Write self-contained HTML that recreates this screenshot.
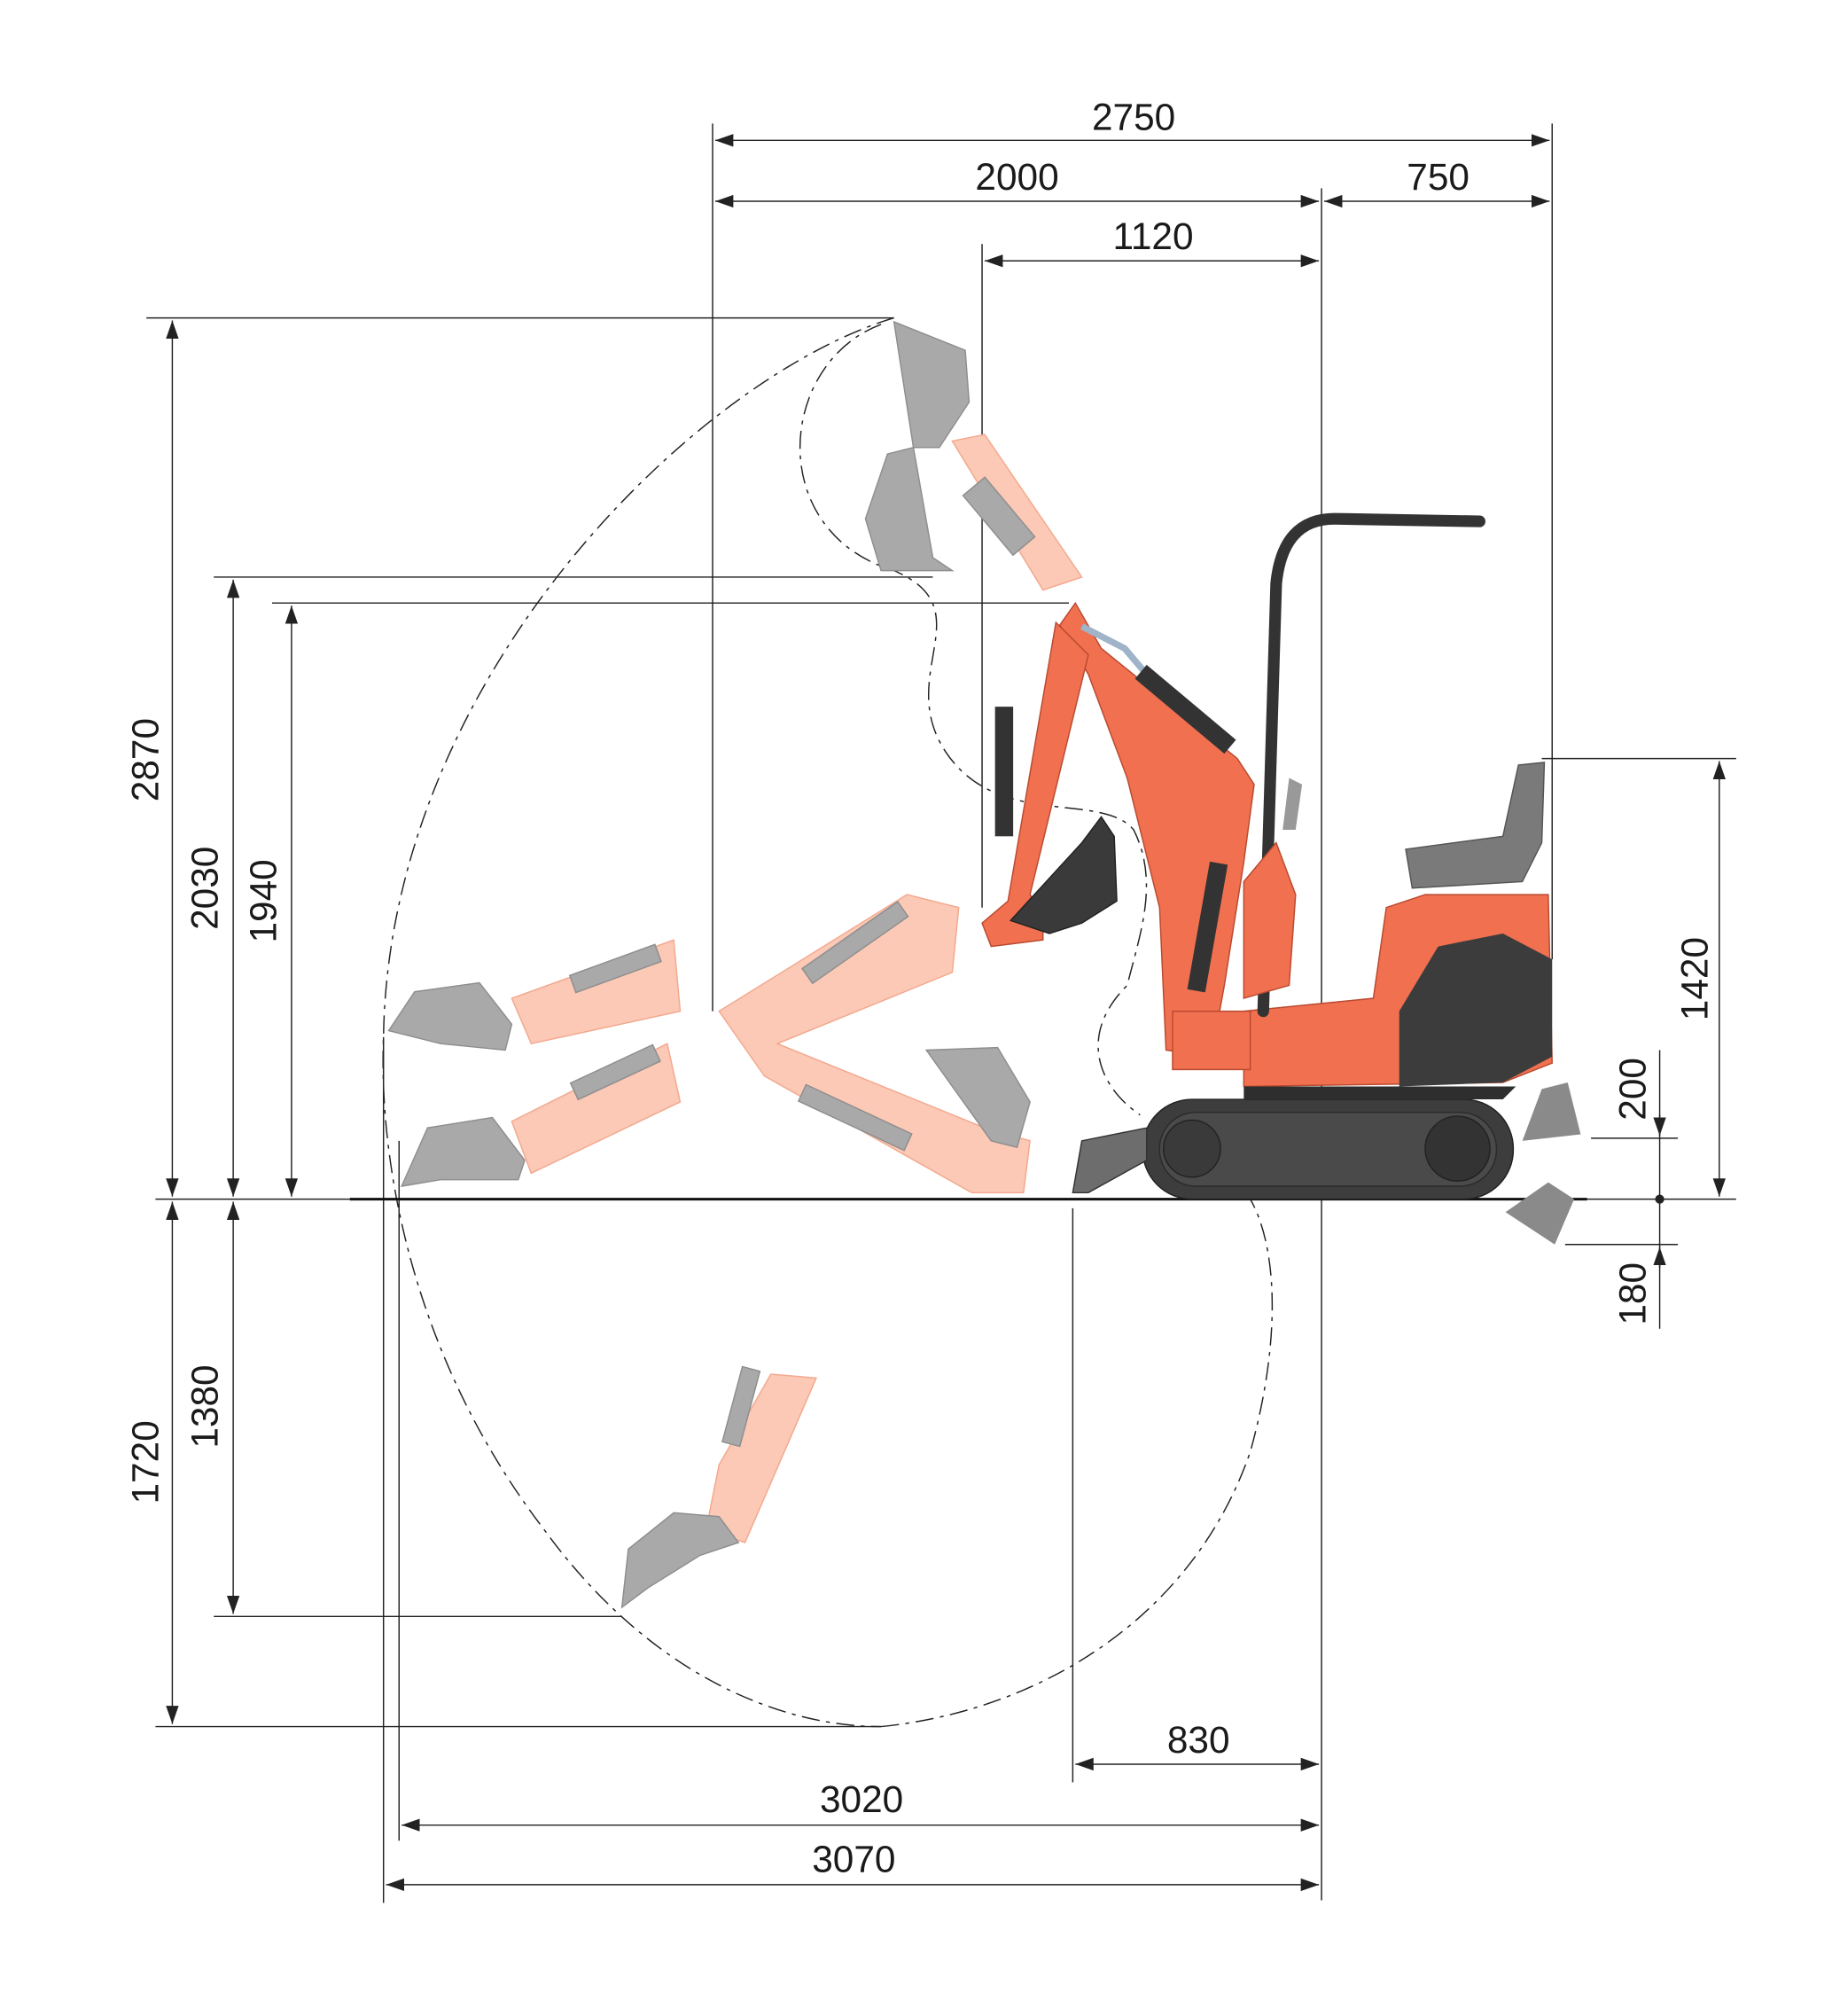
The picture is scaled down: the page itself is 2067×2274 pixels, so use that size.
<!DOCTYPE html>
<html><head><meta charset="utf-8"><style>
html,body{margin:0;padding:0;background:#fff;}
svg{display:block;}
text{font-family:"Liberation Sans",Arial,sans-serif;font-size:29px;fill:#1a1a1a;}
</style></head><body>
<svg width="2067" height="2274" viewBox="0 0 1414 1555" xmlns="http://www.w3.org/2000/svg">
<defs>
<marker id="a" viewBox="0 0 10 10" refX="10" refY="5" markerWidth="14" markerHeight="14" markerUnits="userSpaceOnUse" orient="auto-start-reverse"><path d="M0,1.5 L10,5 L0,8.5 z" fill="#222"/></marker>
</defs>
<g stroke="#222" stroke-width="1" fill="none">
<line x1="550" y1="95" x2="550" y2="780"/>
<line x1="1020" y1="145" x2="1020" y2="1466"/>
<line x1="1198" y1="95" x2="1198" y2="740"/>
<line x1="758" y1="188" x2="758" y2="700"/>
<line x1="113" y1="245" x2="690" y2="245"/>
<line x1="165" y1="445" x2="720" y2="445"/>
<line x1="210" y1="465" x2="825" y2="465"/>
<line x1="120" y1="1332" x2="680" y2="1332"/>
<line x1="165" y1="1247" x2="480" y2="1247"/>
<line x1="828" y1="932" x2="828" y2="1375"/>
<line x1="296" y1="800" x2="296" y2="1468"/>
<line x1="308" y1="880" x2="308" y2="1420"/>
<line x1="1190" y1="585" x2="1340" y2="585"/>
<line x1="1228" y1="878" x2="1295" y2="878"/>
<line x1="1208" y1="960" x2="1295" y2="960"/>
<line x1="120" y1="925" x2="270" y2="925"/>
<line x1="1225" y1="925" x2="1340" y2="925"/>
<line x1="1281" y1="810" x2="1281" y2="1025"/>
<line x1="552" y1="108" x2="1196" y2="108" marker-start="url(#a)" marker-end="url(#a)"/>
<line x1="552" y1="155" x2="1018" y2="155" marker-start="url(#a)" marker-end="url(#a)"/>
<line x1="1022" y1="155" x2="1196" y2="155" marker-start="url(#a)" marker-end="url(#a)"/>
<line x1="760" y1="201" x2="1018" y2="201" marker-start="url(#a)" marker-end="url(#a)"/>
<line x1="133" y1="247" x2="133" y2="923" marker-start="url(#a)" marker-end="url(#a)"/>
<line x1="180" y1="447" x2="180" y2="923" marker-start="url(#a)" marker-end="url(#a)"/>
<line x1="225" y1="467" x2="225" y2="923" marker-start="url(#a)" marker-end="url(#a)"/>
<line x1="133" y1="927" x2="133" y2="1330" marker-start="url(#a)" marker-end="url(#a)"/>
<line x1="180" y1="927" x2="180" y2="1245" marker-start="url(#a)" marker-end="url(#a)"/>
<line x1="830" y1="1361" x2="1018" y2="1361" marker-start="url(#a)" marker-end="url(#a)"/>
<line x1="310" y1="1408" x2="1018" y2="1408" marker-start="url(#a)" marker-end="url(#a)"/>
<line x1="298" y1="1454" x2="1018" y2="1454" marker-start="url(#a)" marker-end="url(#a)"/>
<line x1="1327" y1="587" x2="1327" y2="923" marker-start="url(#a)" marker-end="url(#a)"/>
<line x1="1281" y1="860" x2="1281" y2="876" marker-end="url(#a)"/>
<line x1="1281" y1="978" x2="1281" y2="962" marker-end="url(#a)"/>
<g stroke-dasharray="14,5,3,5">
<path d="M690,245 C540,290 300,520 296,800 C292,900 320,1050 420,1180 C500,1290 600,1332 680,1332"/>
<path d="M680,1332 C800,1320 920,1250 965,1120 C990,1030 985,960 965,925"/>
<path d="M680,250 C600,280 590,410 690,440 C760,470 690,520 730,580 C770,640 850,610 875,640 C895,680 880,720 870,760 C830,800 850,840 880,860"/>
</g>
</g>
<line x1="270" y1="925" x2="1225" y2="925" stroke="#111" stroke-width="2"/>
<circle cx="1281" cy="925" r="3.5" fill="#222"/>
<g fill="#fbc9b5" stroke="#f3a88e" stroke-width="1">
<path d="M735,340 L760,335 L835,445 L805,455 Z"/>
<path d="M395,770 L520,725 L525,780 L410,805 Z"/>
<path d="M395,865 L515,805 L525,850 L410,905 Z"/>
<path d="M555,780 L700,690 L740,700 L735,750 L600,805 L760,870 L795,880 L790,920 L750,920 L590,830 Z"/>
<path d="M555,1130 L595,1060 L630,1063 L575,1190 L545,1180 Z"/>
</g>
<g fill="#a9a9a9" stroke="#8e8e8e" stroke-width="1">
<path d="M690,248 L745,270 L748,310 L725,345 L705,345 Z"/>
<path d="M685,350 L705,345 L720,430 L735,440 L680,440 L668,400 Z"/>
<rect x="760" y="368" width="22" height="60" transform="rotate(-40 771 398)"/>
<path d="M300,795 L320,765 L370,758 L395,790 L390,810 L340,805 Z"/>
<path d="M310,915 L330,870 L380,862 L405,895 L400,910 L340,910 Z"/>
<path d="M715,810 L770,808 L795,850 L785,885 L765,880 Z"/>
<path d="M480,1240 L485,1195 L520,1167 L555,1170 L570,1190 L540,1200 L500,1225 Z"/>
<rect x="440" y="740" width="70" height="14" transform="rotate(-20 475 747)"/>
<rect x="440" y="820" width="70" height="14" transform="rotate(-25 475 827)"/>
<rect x="615" y="720" width="90" height="14" transform="rotate(-35 660 727)"/>
<rect x="615" y="855" width="90" height="14" transform="rotate(25 660 862)"/>
<rect x="565" y="1055" width="14" height="60" transform="rotate(15 572 1085)"/>
</g>
<rect x="882" y="848" width="286" height="77" rx="38" fill="#3d3d3d" stroke="#222"/>
<rect x="895" y="858" width="260" height="57" rx="28" fill="#4a4a4a" stroke="#2a2a2a"/>
<circle cx="1125" cy="886" r="25" fill="#333" stroke="#222"/>
<circle cx="920" cy="886" r="22" fill="#3a3a3a" stroke="#222"/>
<path d="M828,920 L835,880 L885,870 L885,895 L840,920 Z" fill="#6d6d6d" stroke="#333"/>
<path d="M1175,880 L1190,840 L1210,835 L1220,875 Z" fill="#8a8a8a"/>
<path d="M1162,935 L1195,912 L1215,925 L1200,960 Z" fill="#8a8a8a"/>
<path d="M960,780 L1060,770 L1070,700 L1100,690 L1195,690 L1198,820 L1160,835 L960,838 Z" fill="#f07050" stroke="#b94a30"/>
<path d="M1080,780 L1110,730 L1160,720 L1198,740 L1198,815 L1160,835 L1080,838 Z" fill="#3c3c3c"/>
<path d="M960,838 L1170,838 L1160,848 L960,848 Z" fill="#2e2e2e"/>
<path d="M1085,655 L1160,645 L1172,590 L1192,588 L1190,650 L1175,680 L1090,685 Z" fill="#7a7a7a" stroke="#555"/>
<path d="M975,780 L985,450 Q990,400 1030,400 L1142,402" fill="none" stroke="#333" stroke-width="9" stroke-linecap="round"/>
<path d="M1000,640 L1005,605 L995,600 L990,640 Z" fill="#999"/>
<path d="M960,680 L985,650 L1000,690 L995,760 L960,770 Z" fill="#f07050" stroke="#b94a30"/>
<!-- boom -->
<path d="M900,810 L895,700 L870,600 L840,520 L818,482 L830,465 L850,500 L955,585 L968,605 L960,665 L945,760 L935,815 Z" fill="#f07050" stroke="#b94a30"/>
<path d="M815,480 L840,505 L795,690 L805,705 L805,725 L765,730 L758,712 L778,695 Z" fill="#f07050" stroke="#b94a30"/>
<path d="M835,483 L868,500 L885,520" stroke="#9fb4c8" stroke-width="5" fill="none"/>
<rect x="870" y="540" width="90" height="14" fill="#333" transform="rotate(40 915 547)"/>
<rect x="768" y="545" width="14" height="100" fill="#333"/>
<rect x="925" y="665" width="14" height="100" fill="#333" transform="rotate(10 932 715)"/>
<path d="M780,710 L835,650 L850,630 L860,645 L862,695 L835,712 L810,720 Z" fill="#3a3a3a" stroke="#222"/>
<rect x="905" y="780" width="60" height="45" fill="#f07050" stroke="#b94a30"/>
<text x="875" y="100" text-anchor="middle">2750</text>
<text x="785" y="146" text-anchor="middle">2000</text>
<text x="1110" y="146" text-anchor="middle">750</text>
<text x="890" y="192" text-anchor="middle">1120</text>
<text x="925" y="1352" text-anchor="middle">830</text>
<text x="665" y="1398" text-anchor="middle">3020</text>
<text x="659" y="1444" text-anchor="middle">3070</text>
<text transform="translate(122,586) rotate(-90)" text-anchor="middle">2870</text>
<text transform="translate(168,685) rotate(-90)" text-anchor="middle">2030</text>
<text transform="translate(213,695) rotate(-90)" text-anchor="middle">1940</text>
<text transform="translate(122,1128) rotate(-90)" text-anchor="middle">1720</text>
<text transform="translate(168,1085) rotate(-90)" text-anchor="middle">1380</text>
<text transform="translate(1318,755) rotate(-90)" text-anchor="middle">1420</text>
<text transform="translate(1270,840) rotate(-90)" text-anchor="middle">200</text>
<text transform="translate(1270,998) rotate(-90)" text-anchor="middle">180</text>
</svg>
</body></html>
